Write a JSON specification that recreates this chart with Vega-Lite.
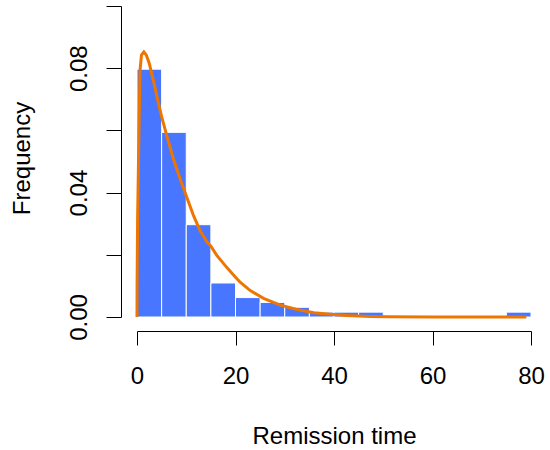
{
  "$schema": "https://vega.github.io/schema/vega-lite/v6.json",
  "autosize": {"type": "none"},
  "padding": {"left": 137, "top": 6, "right": 19, "bottom": 133},
  "width": 394,
  "height": 311,
  "background": "white",
  "config": {
    "view": {"stroke": null},
    "font": "Liberation Sans",
    "axis": {
      "grid": false,
      "domainColor": "black",
      "domainWidth": 1,
      "tickColor": "black",
      "tickWidth": 1,
      "labelColor": "black",
      "titleColor": "black",
      "labelFont": "Liberation Sans",
      "titleFont": "Liberation Sans",
      "labelFontSize": 24,
      "titleFontSize": 24,
      "titleFontWeight": "normal",
      "labelFlush": false,
      "labelOverlap": false
    }
  },
  "datasets": {
    "hist": [
      {"start": 0, "end": 5, "density": 0.0796875},
      {"start": 5, "end": 10, "density": 0.059375},
      {"start": 10, "end": 15, "density": 0.0296875},
      {"start": 15, "end": 20, "density": 0.0109375},
      {"start": 20, "end": 25, "density": 0.00625},
      {"start": 25, "end": 30, "density": 0.0046875},
      {"start": 30, "end": 35, "density": 0.003125},
      {"start": 35, "end": 40, "density": 0.0015625},
      {"start": 40, "end": 45, "density": 0.0015625},
      {"start": 45, "end": 50, "density": 0.0015625},
      {"start": 75, "end": 80, "density": 0.0015625}
    ],
    "curve": [
      {"t": 0, "f": 0},
      {"t": 0.02, "f": 0.0108},
      {"t": 0.12, "f": 0.031},
      {"t": 0.33, "f": 0.0526},
      {"t": 0.6, "f": 0.079},
      {"t": 0.9, "f": 0.0842},
      {"t": 1.4, "f": 0.0852},
      {"t": 1.9, "f": 0.0842},
      {"t": 2.5, "f": 0.0815},
      {"t": 3.4, "f": 0.0755},
      {"t": 4.2, "f": 0.0698},
      {"t": 5, "f": 0.0644},
      {"t": 6.1, "f": 0.058},
      {"t": 7.4, "f": 0.0508},
      {"t": 8.8, "f": 0.0442},
      {"t": 10, "f": 0.039},
      {"t": 11.5, "f": 0.0325},
      {"t": 12.85, "f": 0.0276},
      {"t": 14.2, "f": 0.0242},
      {"t": 15, "f": 0.0228},
      {"t": 16.2, "f": 0.0198},
      {"t": 18.3, "f": 0.0158},
      {"t": 20, "f": 0.0128},
      {"t": 21, "f": 0.0111},
      {"t": 23, "f": 0.0085},
      {"t": 25.7, "f": 0.006},
      {"t": 29.1, "f": 0.0038},
      {"t": 32.5, "f": 0.0024},
      {"t": 35.9, "f": 0.0014},
      {"t": 39.2, "f": 0.0009},
      {"t": 42.6, "f": 0.0005},
      {"t": 47.4, "f": 0.0002},
      {"t": 51, "f": 0.0001},
      {"t": 60, "f": 0},
      {"t": 70, "f": 0},
      {"t": 79.05, "f": 0}
    ]
  },
  "layer": [
    {
      "data": {"name": "hist"},
      "mark": {"type": "rect", "fill": "#4876FF", "stroke": "white", "strokeWidth": 1},
      "encoding": {
        "x": {
          "field": "start",
          "type": "quantitative",
          "scale": {"domain": [0, 80], "nice": false, "zero": false},
          "axis": {
            "orient": "bottom",
            "offset": 14,
            "values": [0, 20, 40, 60, 80],
            "tickSize": 14,
            "labelBaseline": "alphabetic",
            "labelPadding": 38,
            "title": "Remission time",
            "titleBaseline": "alphabetic",
            "titleY": 112
          }
        },
        "x2": {"field": "end"},
        "y": {
          "field": "density",
          "type": "quantitative",
          "scale": {"domain": [0, 0.1], "nice": false},
          "axis": {
            "orient": "left",
            "offset": 16,
            "values": [0, 0.02, 0.04, 0.06, 0.08, 0.1],
            "tickSize": 15,
            "labelExpr": "(abs(datum.value) < 1e-9 || abs(datum.value - 0.04) < 1e-9 || abs(datum.value - 0.08) < 1e-9) ? format(datum.value, '.2f') : ''",
            "labelAngle": 270,
            "labelAlign": "center",
            "labelBaseline": "alphabetic",
            "labelPadding": 20,
            "title": "Frequency",
            "titleAngle": 270,
            "titleAlign": "center",
            "titleBaseline": "alphabetic",
            "titleX": -92,
            "titleY": 152
          }
        },
        "y2": {"datum": 0}
      }
    },
    {
      "data": {"name": "curve"},
      "mark": {"type": "line", "color": "#EE7600", "strokeWidth": 3},
      "encoding": {
        "x": {"field": "t", "type": "quantitative"},
        "y": {"field": "f", "type": "quantitative"}
      }
    }
  ]
}
